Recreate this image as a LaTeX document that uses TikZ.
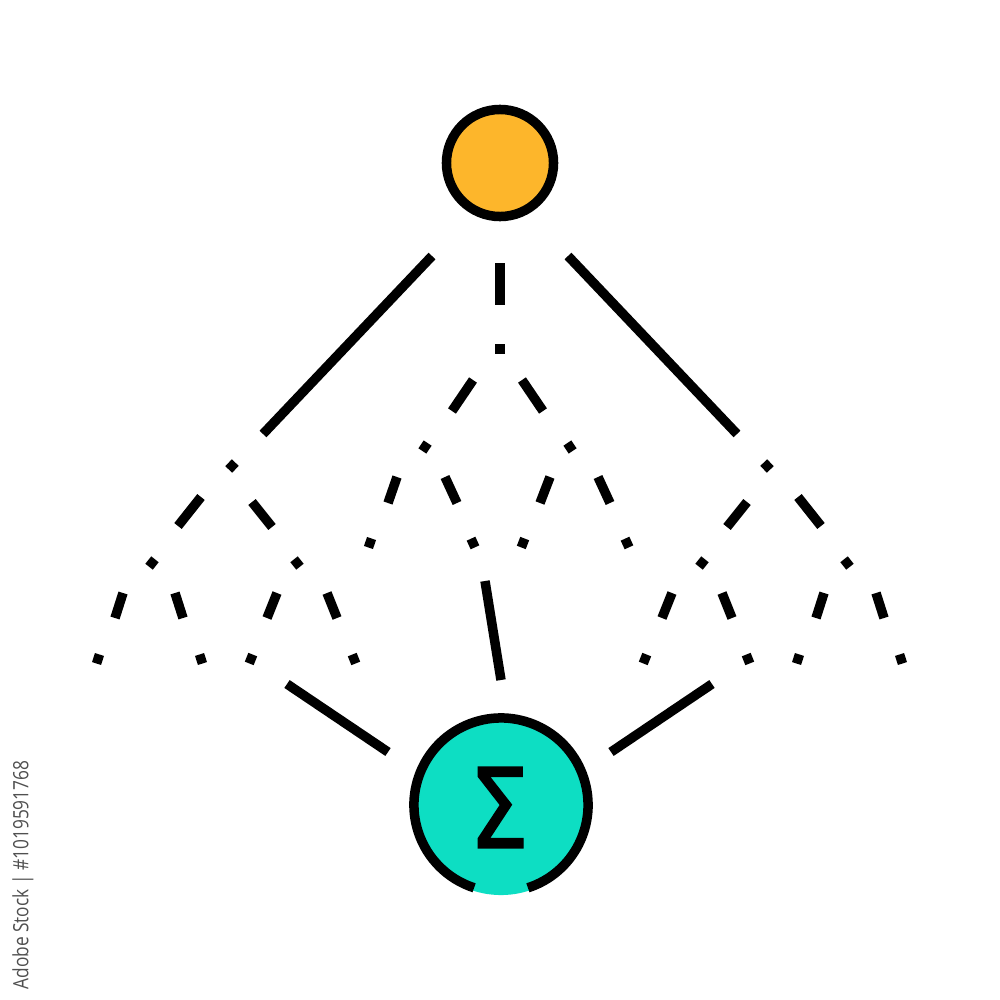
\documentclass[tikz,border=0pt]{standalone}
\usepackage{fontspec}
\usepackage{graphicx}
\newfontfamily\dejavu[FakeBold=1.5]{DejaVu Sans}
\newfontfamily\wmfont{Open Sans}
\definecolor{srcorange}{HTML}{FDB62B}
\definecolor{sumteal}{HTML}{0DDEC3}
\definecolor{wmgray}{HTML}{505050}
\tikzset{
  ln/.style={line width=0.095cm, line cap=butt, draw=black},
  dotst/.style={line width=0.095cm, line cap=butt, draw=black},
}
\newcommand\dt[4]{\pgfmathsetmacro\dtang{atan2(#4,#3)}\draw[dotst] (#1,#2) ++(\dtang:-4.75) -- ++(\dtang:9.5);}
\newcommand\dsh[4]{\draw[ln] (#1,#2) -- (#3,#4);}
\begin{document}
\begin{tikzpicture}[x=0.01cm,y=-0.01cm]
\useasboundingbox (0,0) rectangle (1000,1000);
% source node
\node[circle, draw, line width=0.095cm, fill=srcorange, minimum size=1.07cm, inner sep=0pt] (src) at (500,163) {};
% sum node
\node[circle, fill=sumteal, minimum size=1.8cm, inner sep=0pt] (sum) at (501,805) {};
\draw[ln] (sum.center) ++(-72:0.87cm) arc[start angle=-72, end angle=252, radius=0.87cm];
\node[inner sep=0pt] (sigma) at (499,807.5) {\dejavu\fontsize{31.5}{31.5}\selectfont\scalebox{0.86}[1]{Σ}};
% solid connectors
\coordinate (la) at (432,256); \coordinate (lb) at (263,434);
\coordinate (ra) at (568,256); \coordinate (rb) at (737,434);
\draw[ln] (la) -- (lb);
\draw[ln] (ra) -- (rb);
\coordinate (ma) at (485,581); \coordinate (mb) at (501,680);
\draw[ln] (ma) -- (mb);
\coordinate (sla) at (287,684); \coordinate (slb) at (388,752);
\coordinate (sra) at (712,684); \coordinate (srb) at (611,752);
\draw[ln] (sla) -- (slb);
\draw[ln] (sra) -- (srb);
% centre subtree
\dsh{500}{263}{500}{305} \dt{500}{349}{0}{1}
\dsh{473}{380}{452}{411} \dt{425}{447}{-21}{31}
\dsh{522}{380}{543}{411} \dt{570}{447}{21}{31}
\dsh{397}{477}{388}{503} \dt{370}{543}{-9}{26}
\dsh{445}{477}{457}{503} \dt{473}{543}{12}{26}
\dsh{550}{477}{540}{503} \dt{523}{543}{-10}{26}
\dsh{598}{477}{610}{503} \dt{627}{543}{12}{26}
% left subtree
\dt{232}{466}{-169}{178}
\dsh{201}{497}{178}{526} \dt{152}{563}{-23}{29}
\dsh{252}{502}{272}{527} \dt{297}{563}{20}{25}
\dsh{123}{593}{115}{618} \dt{98}{659}{-8}{25}
\dsh{175}{593}{183}{618} \dt{201}{659}{8}{25}
\dsh{277}{593}{267}{618} \dt{251}{659}{-10}{25}
\dsh{327}{593}{337}{618} \dt{354}{659}{10}{25}
% right subtree
\dt{767}{466}{169}{178}
\dsh{798}{497}{821}{526} \dt{847}{563}{23}{29}
\dsh{747}{502}{727}{527} \dt{702}{563}{-20}{25}
\dsh{876}{593}{884}{618} \dt{901}{659}{8}{25}
\dsh{824}{593}{816}{618} \dt{798}{659}{-8}{25}
\dsh{722}{593}{732}{618} \dt{748}{659}{10}{25}
\dsh{672}{593}{662}{618} \dt{645}{659}{-10}{25}
% side credit
\node[rotate=90, text=wmgray, inner sep=0pt] (credit) at (23,875) {\wmfont\fontsize{6}{6}\selectfont\scalebox{0.82}[1]{Adobe Stock | \#1019591768}};
\end{tikzpicture}
\end{document}
